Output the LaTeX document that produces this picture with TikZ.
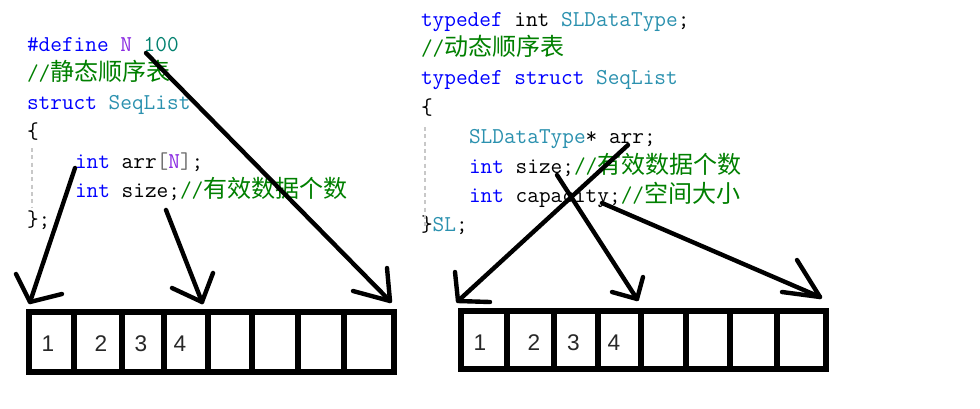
\documentclass[tikz,border=0pt]{standalone}
\usepackage{fontspec}
\newfontfamily\cjk[Scale=1.06]{Noto Sans CJK SC}
\newfontfamily\numfont{Liberation Sans}
\definecolor{kw}{RGB}{0,0,255}
\definecolor{cm}{RGB}{0,128,0}
\definecolor{ty}{RGB}{43,145,175}
\definecolor{mac}{RGB}{138,43,226}
\definecolor{numc}{RGB}{0,128,110}
\definecolor{brk}{RGB}{110,110,110}
\definecolor{guide}{RGB}{200,200,200}
\definecolor{digit}{RGB}{40,40,40}
\tikzset{
  code/.style={anchor=base west, inner sep=0pt, outer sep=0pt, font=\ttfamily\fontsize{17}{20}\selectfont},
  cell/.style={draw, line width=4.2pt, inner sep=0pt, outer sep=0pt},
  numtxt/.style={inner sep=0pt, text=digit, font=\numfont\fontsize{17}{20}\selectfont},
  pen/.style={line width=3.3pt, line cap=round, line join=round},
  guideline/.style={guide, line width=1.2pt, dash pattern=on 3pt off 2.5pt}
}
\begin{document}
\begin{tikzpicture}[x=0.75pt, y=-0.75pt]
\useasboundingbox[fill=white] (0,0) rectangle (980,408);

% ---------- left code ----------
\node[code] (l1) at (27,51)    {\textcolor{kw}{\#define} \textcolor{mac}{N} \textcolor{numc}{100}};
\node[code] (l2) at (27,80.3)  {\textcolor{cm}{//{\cjk 静态顺序表}}};
\node[code] (l3) at (27,109.6) {\textcolor{kw}{struct} \textcolor{ty}{SeqList}};
\node[code] (l4) at (27,138.9) {\{};
\node[code] (l5) at (75,168.2) {\textcolor{kw}{int} arr\textcolor{brk}{[}\textcolor{mac}{N}\textcolor{brk}{]};};
\node[code] (l6) at (75,197.5) {\textcolor{kw}{int} size;\textcolor{cm}{//{\cjk 有效数据个数}}};
\node[code] (l7) at (27,226.8) {\};};
\coordinate (lg1) at (32,148);
\coordinate (lg2) at (32,207);
\draw[guideline] (lg1) -- (lg2);

% ---------- right code ----------
\node[code] (r1) at (421,26)    {\textcolor{kw}{typedef} int \textcolor{ty}{SLDataType};};
\node[code] (r2) at (421,55.4)  {\textcolor{cm}{//{\cjk 动态顺序表}}};
\node[code] (r3) at (421,84.8)  {\textcolor{kw}{typedef} \textcolor{kw}{struct} \textcolor{ty}{SeqList}};
\node[code] (r4) at (421,114.2) {\{};
\node[code] (r5) at (469,143.6) {\textcolor{ty}{SLDataType}* arr;};
\node[code] (r6) at (469,173)   {\textcolor{kw}{int} size;\textcolor{cm}{//{\cjk 有效数据个数}}};
\node[code] (r7) at (469,202.4) {\textcolor{kw}{int} capacity;\textcolor{cm}{//{\cjk 空间大小}}};
\node[code] (r8) at (421,231.8) {\}\textcolor{ty}{SL};};
\coordinate (rg1) at (425,127);
\coordinate (rg2) at (425,228);
\draw[guideline] (rg1) -- (rg2);

% ---------- left array ----------
\foreach \i/\a/\b in {1/28.8/74, 2/74/122, 3/122/164, 4/164/208, 5/208/252, 6/252/298, 7/298/344, 8/344/394.2}
  \node[cell, minimum width={(\b-\a)*0.75pt}, minimum height={60.4*0.75pt}] (L\i) at ({(\a+\b)/2},342) {};
\node[numtxt] (Ln1) at (48,343.5)  {1};
\node[numtxt] (Ln2) at (101,343.5) {2};
\node[numtxt] (Ln3) at (141,343.5) {3};
\node[numtxt] (Ln4) at (180,343.5) {4};

% ---------- right array ----------
\foreach \i/\a/\b in {1/460.8/507, 2/507/554, 3/554/598, 4/598/641, 5/641/686, 6/686/730, 7/730/777, 8/777/826.2}
  \node[cell, minimum width={(\b-\a)*0.75pt}, minimum height={58.4*0.75pt}] (R\i) at ({(\a+\b)/2},340) {};
\node[numtxt] (Rn1) at (480,342.5)   {1};
\node[numtxt] (Rn2) at (534,342.5)   {2};
\node[numtxt] (Rn3) at (573.5,342.5) {3};
\node[numtxt] (Rn4) at (614,342.5)   {4};

% ---------- arrows (left) ----------
\coordinate (a1s) at (75,168);  \coordinate (a1t) at (30,302);
\coordinate (a1u) at (16,274);  \coordinate (a1v) at (62,294);
\coordinate (a2s) at (166,210); \coordinate (a2t) at (202,302);
\coordinate (a2u) at (172,288); \coordinate (a2v) at (213,273);
\coordinate (a3s) at (146,53);  \coordinate (a3t) at (390,301);
\coordinate (a3u) at (353,291); \coordinate (a3v) at (387,268);
\draw[pen] (a1s) -- (a1t);  \draw[pen] (a1u) -- (a1t) -- (a1v);
\draw[pen] (a2s) -- (a2t);  \draw[pen] (a2u) -- (a2t) -- (a2v);
\draw[pen] (a3s) -- (a3t);  \draw[pen] (a3u) -- (a3t) -- (a3v);

% ---------- arrows (right) ----------
\coordinate (a4s) at (628,145); \coordinate (a4t) at (458,301);
\coordinate (a4u) at (455,272); \coordinate (a4v) at (490,302);
\coordinate (a5s) at (557,175); \coordinate (a5t) at (637,299);
\coordinate (a5u) at (612,292); \coordinate (a5v) at (643,277);
\coordinate (a6s) at (602,203); \coordinate (a6t) at (820,297);
\coordinate (a6u) at (782,292); \coordinate (a6v) at (797,260);
\draw[pen] (a4s) -- (a4t);  \draw[pen] (a4u) -- (a4t) -- (a4v);
\draw[pen] (a5s) -- (a5t);  \draw[pen] (a5u) -- (a5t) -- (a5v);
\draw[pen] (a6s) -- (a6t);  \draw[pen] (a6u) -- (a6t) -- (a6v);
\end{tikzpicture}
\end{document}
